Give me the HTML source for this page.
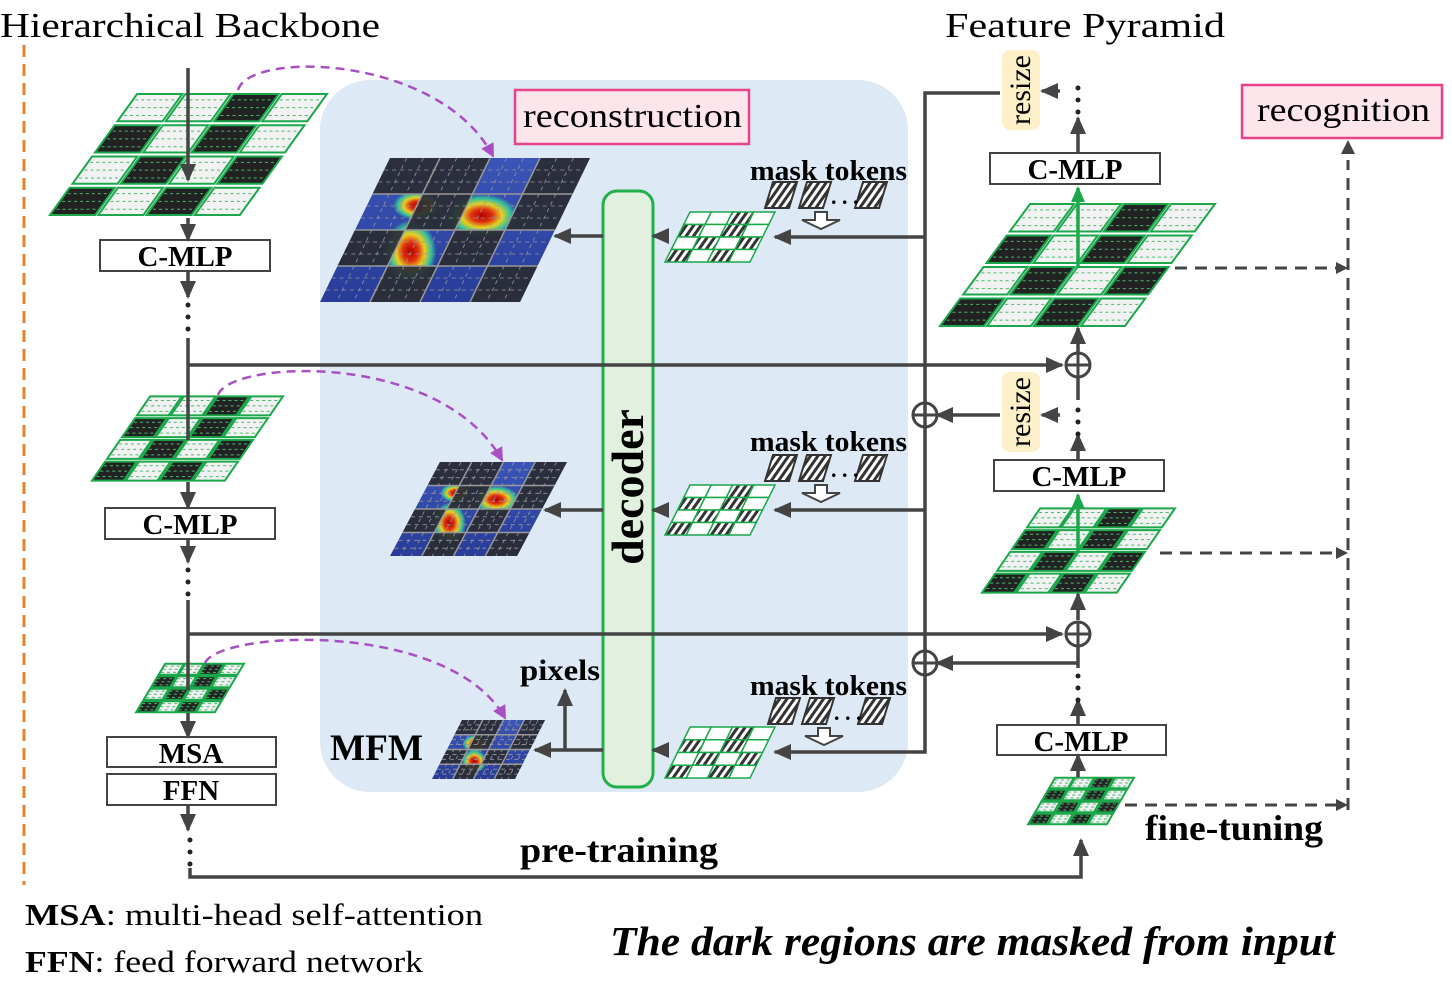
<!DOCTYPE html>
<html><head><meta charset="utf-8"><style>
body{margin:0;background:#fff}
svg{display:block;font-family:"Liberation Serif",serif}
</style></head><body>
<svg id="s" width="1452" height="988" viewBox="0 0 1452 988" xmlns="http://www.w3.org/2000/svg">
<defs>
<marker id="arb" markerWidth="18" markerHeight="16" refX="16" refY="8" orient="auto" markerUnits="userSpaceOnUse"><path d="M0,0 L18,8 L0,16 z" fill="#444"/></marker>
<marker id="arg" markerWidth="16" markerHeight="14" refX="14" refY="7" orient="auto" markerUnits="userSpaceOnUse"><path d="M0,0 L16,7 L0,14 z" fill="#1aa84a"/></marker>
<marker id="arp" markerWidth="14" markerHeight="14" refX="12" refY="7" orient="auto" markerUnits="userSpaceOnUse"><path d="M0,0 L14,7 L0,14 z" fill="#a94fc4"/></marker>
<pattern id="hatch" width="6" height="6" patternUnits="userSpaceOnUse" patternTransform="rotate(35)"><rect width="6" height="6" fill="#fff"/><rect width="3" height="6" fill="#333"/></pattern>
<radialGradient id="hot"><stop offset="0" stop-color="#b00000"/><stop offset="0.3" stop-color="#e03010"/><stop offset="0.55" stop-color="#e8d020"/><stop offset="0.8" stop-color="#30c0a0"/><stop offset="1" stop-color="#30c0a0" stop-opacity="0"/></radialGradient>
<linearGradient id="sea" x1="0" y1="0" x2="0" y2="1"><stop offset="0" stop-color="#3a55b8"/><stop offset="1" stop-color="#283c98"/></linearGradient>
</defs>
<rect x="320" y="80" width="588" height="712" rx="50" fill="#dde9f5"/>
<line x1="24" y1="45" x2="24" y2="885" stroke="#e8822a" stroke-width="3" stroke-dasharray="12,7"/>
<g id="grids"></g>
<text x="0" y="37" font-size="35" textLength="380" lengthAdjust="spacingAndGlyphs">Hierarchical Backbone</text>
<text x="945" y="37" font-size="35" textLength="280" lengthAdjust="spacingAndGlyphs">Feature Pyramid</text>
<rect x="515" y="90" width="234" height="54" fill="#fde5ec" stroke="#e8438a" stroke-width="2.5"/>
<text x="523" y="127" font-size="34" textLength="219" lengthAdjust="spacingAndGlyphs">reconstruction</text>
<rect x="1242" y="85" width="200" height="53" fill="#fde5ec" stroke="#e8438a" stroke-width="2.5"/>
<text x="1257" y="121" font-size="34" textLength="173" lengthAdjust="spacingAndGlyphs">recognition</text>
<rect x="603" y="191" width="50" height="596" rx="14" fill="#e2f0e0" stroke="#22b04a" stroke-width="3"/>
<text transform="translate(643,487) rotate(-90)" font-size="46" font-weight="bold" text-anchor="middle">decoder</text>
<g stroke="#444" stroke-width="2" fill="#fff">
<rect x="100" y="240" width="170" height="31"/>
<rect x="105" y="508" width="170" height="31"/>
<rect x="107" y="737" width="169" height="30"/>
<rect x="107" y="774" width="169" height="31"/>
<rect x="990" y="153" width="170" height="31"/>
<rect x="994" y="460" width="170" height="31"/>
<rect x="997" y="725" width="169" height="30"/>
</g>
<g font-size="29" font-weight="bold" text-anchor="middle">
<text x="185" y="266">C-MLP</text><text x="190" y="534">C-MLP</text>
<text x="191" y="763">MSA</text><text x="191" y="800">FFN</text>
<text x="1075" y="179">C-MLP</text><text x="1079" y="486">C-MLP</text><text x="1081" y="751">C-MLP</text>
</g>
<rect x="1002" y="50" width="38" height="80" rx="8" fill="#fdf0c8"/>
<text transform="translate(1030,90) rotate(-90)" font-size="30" text-anchor="middle">resize</text>
<rect x="1002" y="372" width="38" height="80" rx="8" fill="#fdf0c8"/>
<text transform="translate(1030,412) rotate(-90)" font-size="30" text-anchor="middle">resize</text>
<g stroke="#444" stroke-width="3.5" fill="none">
<line x1="188" y1="68" x2="188" y2="180" marker-end="url(#arb)"/>
<line x1="188" y1="218" x2="188" y2="240" marker-end="url(#arb)"/>
<line x1="188" y1="271" x2="188" y2="297" marker-end="url(#arb)"/>
<line x1="188" y1="338" x2="188" y2="440"/>
<line x1="188" y1="365" x2="1062" y2="365" marker-end="url(#arb)"/>
<line x1="188" y1="482" x2="188" y2="508" marker-end="url(#arb)"/>
<line x1="188" y1="539" x2="188" y2="562" marker-end="url(#arb)"/>
<line x1="188" y1="600" x2="188" y2="690"/>
<line x1="188" y1="634" x2="1062" y2="634" marker-end="url(#arb)"/>
<line x1="188" y1="713" x2="188" y2="737" marker-end="url(#arb)"/>
<line x1="188" y1="805" x2="188" y2="830" marker-end="url(#arb)"/>
<polyline points="190,868 190,877 1081,877 1081,840" marker-end="url(#arb)"/>
<polyline points="1000,93 925,93 925,752 775,752" marker-end="url(#arb)"/>
<line x1="925" y1="237" x2="775" y2="237" marker-end="url(#arb)"/>
<line x1="925" y1="510" x2="775" y2="510" marker-end="url(#arb)"/>
<line x1="603" y1="236" x2="555" y2="236" marker-end="url(#arb)"/>
<line x1="603" y1="510" x2="545" y2="510" marker-end="url(#arb)"/>
<line x1="603" y1="750" x2="535" y2="750" marker-end="url(#arb)"/>
<line x1="565" y1="750" x2="565" y2="690" marker-end="url(#arb)"/>
<line x1="665" y1="236" x2="653" y2="236" marker-end="url(#arb)"/>
<line x1="665" y1="510" x2="653" y2="510" marker-end="url(#arb)"/>
<line x1="665" y1="750" x2="653" y2="750" marker-end="url(#arb)"/>
<line x1="1000" y1="415" x2="937" y2="415" marker-end="url(#arb)"/>
<line x1="1078" y1="663" x2="937" y2="663" marker-end="url(#arb)"/>
<line x1="1078" y1="153" x2="1078" y2="118" marker-end="url(#arb)"/>
<line x1="1060" y1="91" x2="1042" y2="91" marker-end="url(#arb)"/>
<line x1="1060" y1="415" x2="1042" y2="415" marker-end="url(#arb)"/>
<line x1="1078" y1="460" x2="1078" y2="435" marker-end="url(#arb)"/>
<line x1="1078" y1="378" x2="1078" y2="400"/>
<line x1="1078" y1="352" x2="1078" y2="328" marker-end="url(#arb)"/>
<line x1="1078" y1="620" x2="1078" y2="594" marker-end="url(#arb)"/>
<line x1="1078" y1="647" x2="1078" y2="668"/>
<line x1="1078" y1="725" x2="1078" y2="700" marker-end="url(#arb)"/>
<line x1="1078" y1="777" x2="1078" y2="755" marker-end="url(#arb)"/>
</g>
<g fill="#222"><g id="dots"></g></g>
<g stroke="#444" stroke-width="3" fill="none">
<circle cx="1078" cy="365" r="12"/><path d="M1066,365h24M1078,353v24"/>
<circle cx="1078" cy="634" r="12"/><path d="M1066,634h24M1078,622v24"/>
<circle cx="925" cy="415" r="12"/><path d="M913,415h24M925,403v24"/>
<circle cx="925" cy="663" r="12"/><path d="M913,663h24M925,651v24"/>
</g>
<g stroke="#444" stroke-width="3" fill="none" stroke-dasharray="12,8">
<line x1="1175" y1="268" x2="1340" y2="268"/>
<line x1="1160" y1="553" x2="1340" y2="553"/>
<line x1="1125" y1="805" x2="1340" y2="805"/>
<line x1="1348" y1="810" x2="1348" y2="160"/>
</g>
<g fill="#444"><path d="M1348,268l-12,-6v12z"/><path d="M1348,553l-12,-6v12z"/><path d="M1348,805l-12,-6v12z"/><path d="M1348,140l-7,14h14z"/></g>
<g stroke="#a94fc4" stroke-width="2.5" fill="none" stroke-dasharray="9,6">
<path d="M238,90 C250,50 440,55 493,156" marker-end="url(#arp)"/>
<path d="M218,395 C230,360 440,350 502,460" marker-end="url(#arp)"/>
<path d="M205,663 C220,630 450,620 505,718" marker-end="url(#arp)"/>
</g>
<g id="mt"></g>
<g id="garr" stroke="#1aa84a" stroke-width="3.5" fill="none"></g>
<g font-size="28" font-weight="bold">
<text x="750" y="180" textLength="157" lengthAdjust="spacingAndGlyphs">mask tokens</text><text x="750" y="451" textLength="157" lengthAdjust="spacingAndGlyphs">mask tokens</text><text x="750" y="695" textLength="157" lengthAdjust="spacingAndGlyphs">mask tokens</text>
<text x="520" y="680" font-size="30" textLength="80" lengthAdjust="spacingAndGlyphs">pixels</text>
<text x="330" y="760" font-size="37" textLength="93" lengthAdjust="spacingAndGlyphs">MFM</text>
<text x="520" y="862" font-size="36" textLength="198" lengthAdjust="spacingAndGlyphs">pre-training</text>
<text x="1145" y="840" font-size="36" textLength="178" lengthAdjust="spacingAndGlyphs">fine-tuning</text>
</g>
<text x="25" y="925" font-size="31" textLength="458" lengthAdjust="spacingAndGlyphs"><tspan font-weight="bold">MSA</tspan>: multi-head self-attention</text>
<text x="25" y="972" font-size="31" textLength="398" lengthAdjust="spacingAndGlyphs"><tspan font-weight="bold">FFN</tspan>: feed forward network</text>
<text x="610" y="955" font-size="41" font-weight="bold" font-style="italic" textLength="725" lengthAdjust="spacingAndGlyphs">The dark regions are masked from input</text>
</svg>
<script>
const NS="http://www.w3.org/2000/svg";
function el(t,a,p){const e=document.createElementNS(NS,t);for(const k in a)e.setAttribute(k,a[k]);p.appendChild(e);return e;}
const G=document.getElementById('grids');
function pt(g,u,v){return [g.x+g.sk*(1-v)+g.w*u, g.y+g.h*v];}
function poly(g,u0,v0,u1,v1,attr,p){const a=[pt(g,u0,v0),pt(g,u1,v0),pt(g,u1,v1),pt(g,u0,v1)];attr.points=a.map(q=>q.join(',')).join(' ');return el('polygon',attr,p);}
const pat=[[0,0,1,0],[1,0,1,0],[0,1,0,1],[1,0,1,0]];
function grid(g,n){for(let r=0;r<n;r++)for(let c=0;c<n;c++){const d=pat[r%4][c%4];
 const gap=0.008;poly(g,c/n+gap,r/n+gap*2,(c+1)/n-gap,(r+1)/n-gap*2,{fill:d?'#222':'#f2f2f2',stroke:'#1aa84a','stroke-width':2},G);
 for(let k=1;k<4;k++){const a=pt(g,c/n+0.02,(r+k/4)/n),b=pt(g,(c+1)/n-0.02,(r+k/4)/n);el('line',{x1:a[0],y1:a[1],x2:b[0],y2:b[1],stroke:'#4bb870','stroke-width':1,'stroke-dasharray':'3,3'},G);}}}
grid({x:47,y:92,w:193,h:125,sk:90},4);
grid({x:90,y:395,w:135,h:87,sk:60},4);
grid({x:135,y:663,w:80,h:50,sk:30},4);
grid({x:937,y:202,w:188,h:126,sk:93},4);
grid({x:980,y:507,w:137,h:87,sk:60},4);
grid({x:1027,y:777,w:80,h:48,sk:28},4);
function heat(g,blobs){const grp=el('g',{},G);poly(g,0,0,1,1,{fill:'url(#sea)'},grp);
 blobs.forEach(b=>{const p=pt(g,b[0],b[1]);el('ellipse',{cx:p[0],cy:p[1],rx:b[2]*g.w,ry:b[3]*g.h,fill:'url(#hot)'},grp);});
 const dk=[[1,1,0,1],[0,1,0,1],[1,0,1,0],[0,1,0,1]];
 for(let r=0;r<4;r++)for(let c=0;c<4;c++)if(dk[r][c])poly(g,c/4,r/4,(c+1)/4,(r+1)/4,{fill:'#2a2d33','fill-opacity':0.92},grp);
 for(let k=1;k<12;k++){let a=pt(g,0,k/12),b=pt(g,1,k/12);el('line',{x1:a[0],y1:a[1],x2:b[0],y2:b[1],stroke:'#999','stroke-width':k%3?0.8:1.5,'stroke-dasharray':k%3?'4,4':''},grp);
 a=pt(g,k/12,0);b=pt(g,k/12,1);el('line',{x1:a[0],y1:a[1],x2:b[0],y2:b[1],stroke:'#999','stroke-width':k%3?0.8:1.5,'stroke-dasharray':k%3?'4,4':''},grp);}}
heat({x:320,y:158,w:200,h:144,sk:70},[[0.25,0.33,0.12,0.1],[0.33,0.65,0.13,0.22],[0.6,0.4,0.18,0.15]]);
heat({x:390,y:462,w:127,h:94,sk:50},[[0.25,0.33,0.12,0.1],[0.33,0.65,0.13,0.22],[0.6,0.4,0.18,0.15]]);
heat({x:432,y:720,w:83,h:59,sk:30},[[0.3,0.4,0.15,0.15],[0.4,0.7,0.15,0.2]]);
const M=document.getElementById('mt');
function mgrid(g){const dk=[[0,0,1,0],[1,0,1,0],[0,1,0,1],[1,0,1,0]];
 for(let r=0;r<4;r++)for(let c=0;c<4;c++)poly(g,c/4,r/4,(c+1)/4,(r+1)/4,{fill:dk[r][c]?'url(#hatch)':'#fff',stroke:'#1aa84a','stroke-width':1.5},M);}
mgrid({x:665,y:212,w:85,h:50,sk:25});
mgrid({x:665,y:485,w:85,h:50,sk:25});
mgrid({x:665,y:727,w:85,h:51,sk:25});
function tokens(x,y){[[x,y],[x+34,y],[x+90,y]].forEach(q=>{el('polygon',{points:`${q[0]+8},${q[1]} ${q[0]+32},${q[1]} ${q[0]+24},${q[1]+26} ${q[0]},${q[1]+26}`,fill:'url(#hatch)',stroke:'#333','stroke-width':2},M);});
 el('text',{x:x+66,y:y+22,'font-size':22,'font-weight':'bold'},M).textContent='. . .';
 el('polygon',{points:`${x+50},${y+30} ${x+62},${y+30} ${x+62},${y+38} ${x+75},${y+38} ${x+56},${y+47} ${x+37},${y+38} ${x+50},${y+38}`,fill:'#fff',stroke:'#444','stroke-width':2},M);}
tokens(765,182);tokens(765,455);tokens(768,698);
const GA=document.getElementById('garr');
el('line',{x1:1078,y1:268,x2:1078,y2:188,'marker-end':'url(#arg)'},GA);
el('line',{x1:1078,y1:553,x2:1078,y2:495,'marker-end':'url(#arg)'},GA);
const D=document.getElementById('dots');
[[188,305],[188,317],[188,329],[188,570],[188,582],[188,594],[190,840],[190,852],[190,864],
 [1078,88],[1078,100],[1078,112],[1078,410],[1078,422],[1078,434],[1078,676],[1078,688],[1078,700]].forEach(p=>el('circle',{cx:p[0],cy:p[1],r:2.5},D));
</script>
</body></html>
